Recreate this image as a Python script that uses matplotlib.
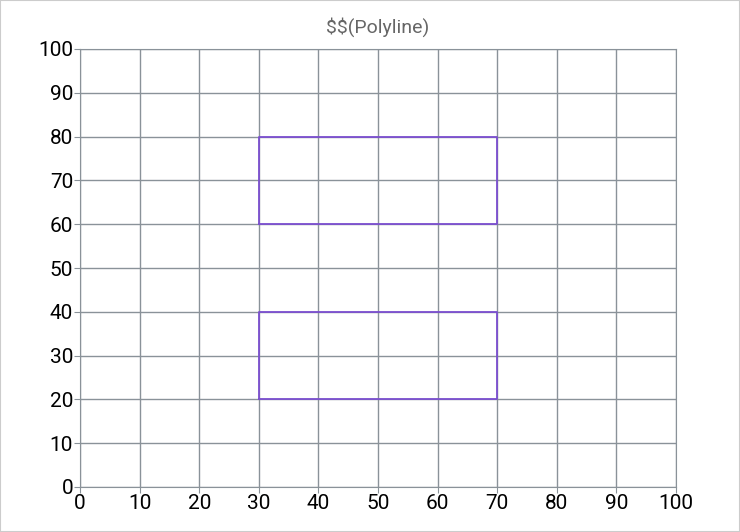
import matplotlib
matplotlib.use("Agg")
import matplotlib.pyplot as plt

poly1_x = [30, 70, 70, 30, 30]
poly1_y = [60, 60, 80, 80, 60]
poly2_x = [30, 70, 70, 30, 30]
poly2_y = [20, 20, 40, 40, 20]
ticks = list(range(0, 101, 10))

plt.rcParams['font.family'] = ['Roboto', 'DejaVu Sans']
fig = plt.figure(figsize=(7.4, 5.32), dpi=100)
ax = fig.add_axes([80/740, 45/532, 596/740, 438/532])
grid = '#8a9299'
ax.plot(poly1_x, poly1_y, color='#7b4fd0', lw=1.3, zorder=3)
ax.plot(poly2_x, poly2_y, color='#7b4fd0', lw=1.3, zorder=3)
ax.set_xlim(0, 100); ax.set_ylim(0, 100)
ax.set_xticks(ticks); ax.set_yticks(ticks)
ax.grid(True, color=grid, lw=1)
for s in ax.spines.values():
    s.set_color(grid)
ax.tick_params(length=4, color=grid, labelsize=15, pad=1)
ax.set_title(r'\$\$(Polyline)', color='#666666', fontsize=14, pad=12)
fig.patches.append(plt.Rectangle((0, 0), 1, 1, transform=fig.transFigure,
                                 fill=False, edgecolor='#cccccc', lw=1.5))
fig.savefig('out.png', dpi=100)
